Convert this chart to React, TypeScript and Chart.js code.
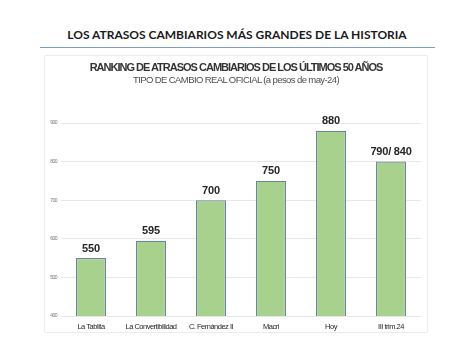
import React, { useEffect, useRef } from "react";
import { Chart, registerables } from "chart.js";

Chart.register(...registerables);

const categories = ["La Tablita", "La Convertibilidad", "C. Fernández II", "Macri", "Hoy", "III trim.24"];
const values = [550, 595, 700, 750, 880, 800];
const valueLabels = ["550", "595", "700", "750", "880", "790/ 840"];
const yTicks = [400, 500, 600, 700, 800, 900];

const spacingPlugin = {
  id: "spacing",
  beforeUpdate(chart: any) {
    chart.ctx.letterSpacing = "-0.5px";
  },
  beforeDraw(chart: any) {
    chart.ctx.letterSpacing = "-0.5px";
  },
};

const valueLabelPlugin = {
  id: "valueLabels",
  afterDatasetsDraw(chart: any) {
    const { ctx } = chart;
    const meta = chart.getDatasetMeta(0);
    ctx.save();
    ctx.letterSpacing = "-0.2px";
    ctx.font = "bold 11px 'Liberation Sans', Arial, sans-serif";
    ctx.fillStyle = "#262626";
    ctx.textAlign = "center";
    ctx.textBaseline = "bottom";
    meta.data.forEach((bar: any, i: number) => {
      ctx.fillText(valueLabels[i], bar.x, bar.y - 4);
    });
    ctx.restore();
  },
};

export default function App() {
  const ref = useRef<HTMLCanvasElement>(null);
  useEffect(() => {
    document.body.style.margin = "0";
    const chart = new Chart(ref.current!, {
      type: "bar",
      data: {
        labels: categories,
        datasets: [
          {
            data: values,
            backgroundColor: "#a9d18e",
            borderColor: "#6a84a4",
            borderWidth: 1.2,
            barPercentage: 0.5,
            categoryPercentage: 1,
          },
        ],
      },
      options: {
        animation: false,
        responsive: false,
        maintainAspectRatio: false,
        layout: { padding: { left: 4, right: 6, top: 67, bottom: 1 } },
        plugins: {
          legend: { display: false },
          tooltip: { enabled: false },
        },
        scales: {
          x: {
            grid: { display: false, drawTicks: false, tickLength: 0 },
            border: { display: false },
            afterFit: (axis: any) => {
              axis.height = 15;
            },
            ticks: {
              color: "#262626",
              maxRotation: 0,
              minRotation: 0,
              autoSkip: false,
              font: { family: "'Liberation Sans', Arial", size: 7.5 },
              padding: 6,
            },
          },
          y: {
            min: 400,
            max: 900,
            afterBuildTicks: (axis: any) => {
              axis.ticks = yTicks.map((v) => ({ value: v }));
            },
            grid: { color: "#e8e8e8", drawTicks: false },
            border: { display: false },
            afterFit: (axis: any) => {
              axis.width = 12;
            },
            ticks: {
              color: "#777777",
              font: { family: "'Liberation Sans', Arial", size: 5 },
              padding: 4,
            },
          },
        },
      },
      plugins: [spacingPlugin, valueLabelPlugin],
    });
    return () => chart.destroy();
  }, []);

  return (
    <div style={{ position: "relative", width: 474, height: 355, background: "#ffffff", overflow: "hidden" }}>
      <div
        style={{
          position: "absolute",
          top: 26,
          left: 0,
          width: 474,
          textAlign: "center",
          fontFamily: "Lato, 'Open Sans', sans-serif",
          fontWeight: 700,
          fontSize: 12,
          color: "#1a1a1a",
          lineHeight: "18px",
        }}
      >
        LOS ATRASOS CAMBIARIOS MÁS GRANDES DE LA HISTORIA
      </div>
      <div
        style={{
          position: "absolute",
          top: 47,
          left: 40,
          width: 395,
          height: 1,
          background: "#7f9cc2",
        }}
      />
      <div
        style={{
          position: "absolute",
          top: 55,
          left: 44,
          width: 384,
          height: 278,
          border: "1px solid #ececec",
          boxSizing: "border-box",
          borderRadius: 2,
        }}
      >
        <canvas ref={ref} width={382} height={276} style={{ display: "block" }} />
        <div
          style={{
            position: "absolute",
            top: 4,
            left: 0,
            width: 382,
            textAlign: "center",
            fontFamily: "'Liberation Sans', Arial, sans-serif",
            fontWeight: 700,
            fontSize: 11,
            letterSpacing: "-1px",
            color: "#333333",
            lineHeight: "14px",
          }}
        >
          RANKING DE ATRASOS CAMBIARIOS DE LOS ÚLTIMOS 50 AÑOS
        </div>
        <div
          style={{
            position: "absolute",
            top: 18,
            left: 0,
            width: 382,
            textAlign: "center",
            fontFamily: "'Liberation Sans', Arial, sans-serif",
            fontSize: 9.5,
            letterSpacing: "-0.6px",
            color: "#4d4d4d",
            lineHeight: "12px",
          }}
        >
          TIPO DE CAMBIO REAL OFICIAL (a pesos de may-24)
        </div>
      </div>
    </div>
  );
}
